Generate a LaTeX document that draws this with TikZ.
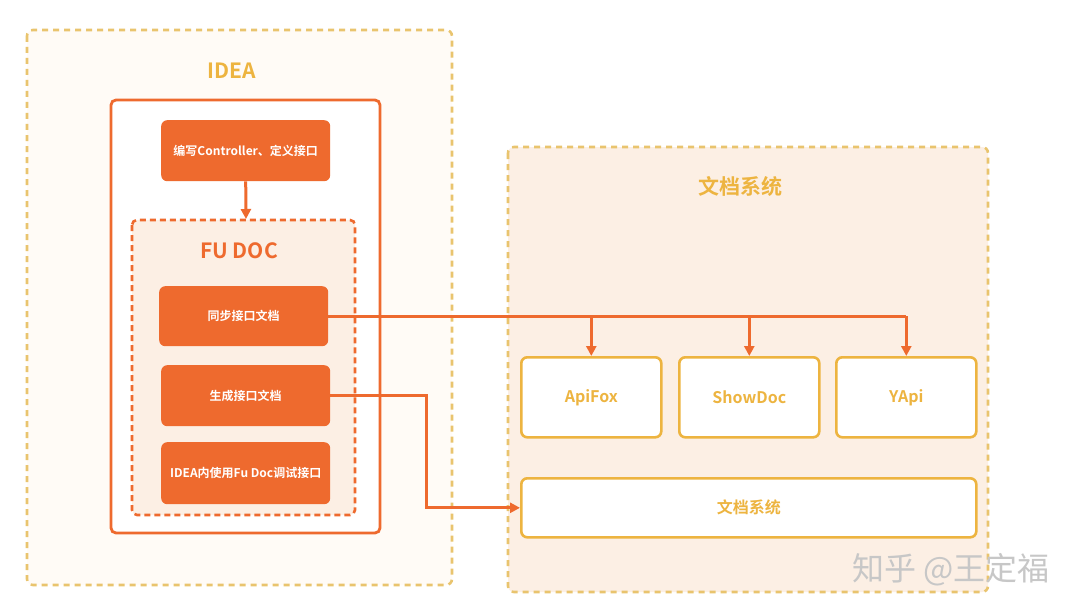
\documentclass[tikz,border=0pt]{standalone}
\usepackage{fontspec}
\setmainfont{Noto Sans CJK SC}[BoldFont={Noto Sans CJK SC Bold}]
\usetikzlibrary{arrows.meta,calc}
\definecolor{orng}{HTML}{EE6A2E}
\definecolor{gold}{HTML}{EDB440}
\definecolor{golddash}{HTML}{E9C46E}
\definecolor{cream}{HTML}{FFFBF6}
\definecolor{peach}{HTML}{FCEFE4}
\tikzset{
  obox/.style={draw=none, fill=orng, rounded corners=6pt, text=white, font=\bfseries\fontsize{12}{14}\selectfont, anchor=north west, inner sep=0pt},
  gbox/.style={draw=gold, line width=2.6pt, fill=white, rounded corners=6pt, text=gold, font=\bfseries\fontsize{16}{18}\selectfont, anchor=north west, inner sep=0pt},
  conn/.style={draw=orng, line width=3pt},
  arr/.style={conn, -{Triangle[width=10pt,length=10pt]}},
}
\begin{document}
\begin{tikzpicture}[x=1pt,y=-1pt]
\useasboundingbox (0,0) rectangle (1078,615);
\fill[white] (0,0) rectangle (1078,615);
% IDEA outer
\draw[golddash, fill=cream, line width=2.6pt, dash pattern=on 6pt off 5pt, rounded corners=6pt] (27,30) rectangle (452,585);
\node[text=gold, font=\bfseries\fontsize{21}{24}\selectfont] (ideat) at (232,71) {IDEA};
\draw[orng, fill=white, line width=2.8pt, rounded corners=5pt] (111,100) rectangle (380,533);
\node[obox, minimum width=169pt, minimum height=61pt] (ctrl) at (161,120) {编写Controller、定义接口};
% FU DOC
\draw[orng, fill=peach, line width=2.6pt, dash pattern=on 6pt off 4pt, rounded corners=5pt] (132,220) rectangle (355,515);
\coordinate (fudoctop) at (246,219);
\node[text=orng, font=\bfseries\fontsize{21}{24}\selectfont] (fudoct) at (239,251) {FU DOC};
\node[obox, minimum width=169pt, minimum height=60pt] (sync) at (159,286) {同步接口文档};
\node[obox, minimum width=169pt, minimum height=61pt] (gen) at (161,365) {生成接口文档};
\node[obox, minimum width=169pt, minimum height=62pt] (dbg) at (161,442) {IDEA内使用Fu Doc调试接口};
\draw[arr] (ctrl.south) -- (fudoctop);
% right system
\draw[golddash, fill=peach, line width=2.6pt, dash pattern=on 6pt off 5pt, rounded corners=6pt] (508,147) rectangle (988,592);
\node[text=gold, font=\bfseries\fontsize{21}{24}\selectfont] (syst) at (740,186) {文档系统};
\node[gbox, minimum width=140pt, minimum height=80pt] (apifox) at (520,356) {ApiFox};
\node[gbox, minimum width=140pt, minimum height=80pt] (showdoc) at (678,356) {ShowDoc};
\node[gbox, minimum width=140pt, minimum height=80pt] (yapi) at (835,356) {YApi};
\node[gbox, minimum width=455pt, minimum height=59pt] (docbar) at (520,477) {文档系统};
% connectors
\draw[conn] (sync.east) -- (yapi.north |- sync.east);
\draw[arr] (yapi.north |- sync.east) -- (yapi.north);
\draw[arr] (apifox.north |- sync.east) -- (apifox.north);
\draw[arr] (showdoc.north |- sync.east) -- (showdoc.north);
\coordinate (bend) at ($(gen.east)+(96,0)$);
\draw[arr] (gen.east) -- (bend) |- (docbar.west);
% watermark
\node[text=black!22, font=\fontsize{32}{35}\selectfont, anchor=west] (wm) at (849,570) {知乎 @王定福};
\end{tikzpicture}
\end{document}
